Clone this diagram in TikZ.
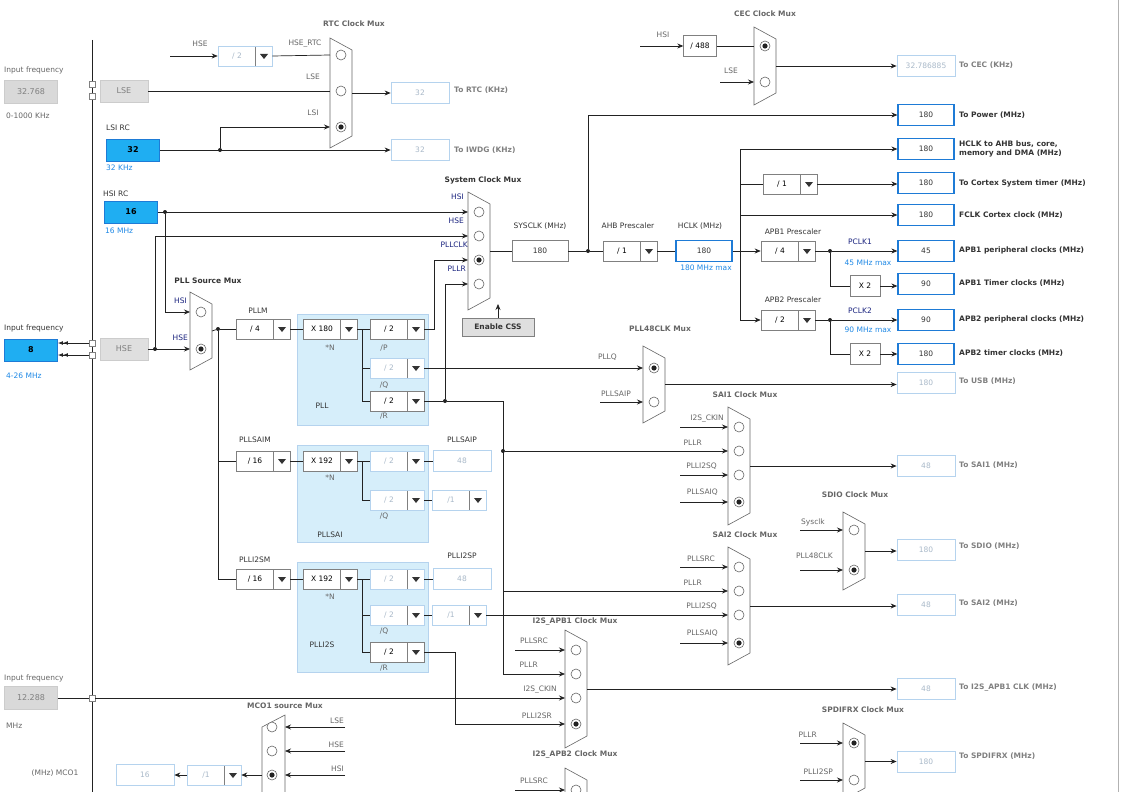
\documentclass[tikz,border=0pt]{standalone}
\usepackage{fontspec}
\setmainfont{DejaVu Sans}
\usetikzlibrary{arrows.meta, positioning}
\definecolor{valblue}{HTML}{1E7BD6}
\definecolor{offblue}{HTML}{B5D3EE}
\definecolor{offtxt}{HTML}{A9B9C9}
\definecolor{srcfill}{HTML}{1FAEF2}
\definecolor{darktxt}{HTML}{333333}
\definecolor{bluetxt}{HTML}{1E88E5}
\definecolor{navytxt}{HTML}{1A237E}
\definecolor{pllfill}{HTML}{D6EEFA}
\definecolor{wirec}{HTML}{222222}
\newcommand\dt[1]{\makebox[34pt]{#1}\hspace*{16pt}}
% mux: name, x, ytop, ybottom, input ys, selected y
\newcommand\mux[6]{%
  \draw[muxline] (#2,#3) -- (#2+22,#3+12) -- (#2+22,#4-12) -- (#2,#4) -- cycle;
  \coordinate (#1-o) at (#2+22,{(#3+#4)/2});
  \coordinate (#1-b) at (#2+11,#4-6);
  \foreach \yy [count=\i] in {#5} {
    \coordinate (#1-\i) at (#2,\yy);
    \draw[muxline] (#2+11,\yy) circle (5);
    \ifnum\yy=#6 \fill[wirec] (#2+11,\yy) circle (2.6); \fi
  }}
\tikzset{
  every node/.style={font=\fontsize{7.5}{9}\selectfont, inner sep=1pt},
  muxline/.style={draw=gray!80!black, fill=white, line width=.6pt},
  w/.style={draw=wirec, line width=.7pt},
  a/.style={w, -{Stealth[length=6pt,width=5pt]}},
  val/.style={draw=valblue, line width=1.2pt, fill=white, minimum width=56, minimum height=21, text=darktxt},
  off/.style={draw=offblue, line width=.8pt, fill=white, minimum width=58, minimum height=21, text=offtxt},
  src/.style={draw=valblue, line width=.8pt, fill=srcfill, minimum width=53, minimum height=22, font=\fontsize{8}{9}\bfseries},
  gbox/.style={draw=gray!40, fill=gray!30, text=gray, minimum width=53, minimum height=23, font=\fontsize{8}{9}\selectfont},
  dd/.style={draw=gray, line width=.6pt, fill=white, minimum width=54, minimum height=20,
    path picture={\draw[gray] ([xshift=-17pt]path picture bounding box.north east) -- ([xshift=-17pt]path picture bounding box.south east);
      \fill[darktxt] ([xshift=-12pt,yshift=2pt]path picture bounding box.east) -- ++(8pt,0) -- ++(-4pt,-5pt) -- cycle;}},
  ddoff/.style={dd, draw=offblue, text=offtxt},
  lbl/.style={anchor=west, text=darktxt, font=\fontsize{7.5}{9}\bfseries},
  glbl/.style={anchor=west, text=gray, font=\fontsize{7.5}{9}\bfseries},
  ttl/.style={text=gray!80!black, font=\fontsize{7.5}{9}\bfseries},
  sm/.style={text=gray!80!black},
  inl/.style={anchor=south east, text=gray!80!black},
  bl/.style={text=bluetxt},
  nv/.style={text=navytxt},
  sq/.style={draw=gray, fill=white, minimum size=6, inner sep=0},
  dot/.style={circle, fill=wirec, inner sep=0, minimum size=4}
}
\begin{document}
\begin{tikzpicture}[x=1pt, y=-1pt]
  \useasboundingbox (0,0) rectangle (1122,792);
  \clip (0,0) rectangle (1122,792);
  \draw[gray!60] (1118,0) -- (1118,792);
  \draw[w] (92,40) -- (92,792);

  % Sources
  \node[sm, anchor=west] at (3,70) {Input frequency};
  \node[gbox] (lsefreq) at (31,92) {32.768};
  \node[sm, anchor=west] at (5,116) {0-1000 KHz};
  \node[gbox, minimum width=48, minimum height=22, fill=gray!25] (lse) at (124,91) {LSE};
  \node[sq] (sqa) at (92,84) {}; \node[sq] (sqb) at (92,96) {};
  \node[anchor=west, text=darktxt] at (105,128) {LSI RC};
  \node[src] (lsi) at (133,150) {32};
  \node[bl, anchor=west] at (105,168) {32 KHz};
  \node[anchor=west, text=darktxt] at (102,194) {HSI RC};
  \node[src] (hsi) at (131,212) {16};
  \node[bl, anchor=west] at (104,231) {16 MHz};
  \node[anchor=west, text=darktxt] at (3,328) {Input frequency};
  \node[src] (hsefreq) at (31,350) {8};
  \node[bl, anchor=west] at (5,376) {4-26 MHz};
  \node[gbox, minimum width=48, minimum height=22, fill=gray!25] (hse) at (124,349) {HSE};
  \node[sq] (sqc) at (92,343) {}; \node[sq] (sqd) at (92,355) {};
  \draw[w, -{Latex[length=5pt]Latex[length=5pt]}] (sqc) -- (hsefreq.east|-sqc);
  \draw[w, -{Latex[length=5pt]Latex[length=5pt]}] (sqd) -- (hsefreq.east|-sqd);
  \node[sm, anchor=west] at (3,678) {Input frequency};
  \node[gbox] (i2sfreq) at (31,698) {12.288};
  \node[sm, anchor=west] at (5,726) {MHz};
  \node[sq] (sqe) at (92,698) {};

  % RTC
  \node[ttl] at (354,24) {RTC Clock Mux};
  \mux{rtc}{330}{38}{148}{55,91,127}{127}
  \node[sm] at (200,44) {HSE};
  \node[ddoff] (rtcdiv) at (245,56) {\dt{/ 2}};
  \coordinate (hsein) at (170,56);
  \draw[a] (hsein) -- (rtcdiv);
  \draw[w] (rtcdiv.east) -- (rtc-1);
  \node[sm] at (305,44) {HSE\_RTC};
  \draw[w] (lse) -- (rtc-2); \node[sm] at (313,77) {LSE};
  \node[off] (rtcbox) at (420,93) {32};
  \node[glbl] at (453,90) {To RTC (KHz)};
  \draw[a] (rtc-o) -- (rtcbox.west|-rtc-o);
  \node[off] (iwdg) at (420,150) {32};
  \node[glbl] at (453,150) {To IWDG (KHz)};
  \node[dot] (lsidot) at (220,150) {};
  \draw[a] (lsi.east) -- (iwdg);
  \draw[a] (lsidot) |- (rtc-3); \node[sm] at (313,113) {LSI};

  % CEC
  \node[ttl] at (765,14) {CEC Clock Mux};
  \mux{cec}{754}{27}{105}{46,82}{46}
  \coordinate (cecin) at (640,46); \coordinate (cecin2) at (720,82);
  \node[sm] at (663,35) {HSI}; \node[sm] at (731,71) {LSE};
  \node[draw=gray, fill=white, minimum width=33, minimum height=21] (div488) at (700,46) {/ 488};
  \draw[a] (cecin) -- (div488); \draw[w] (div488) -- (cec-1);
  \draw[a] (cecin2) -- (cec-2);
  \node[off] (cecbox) at (926,66) {32.786885};
  \node[glbl] at (958,65) {To CEC (KHz)};
  \draw[a] (cec-o) -- (cecbox.west|-cec-o);

  % System clock
  \node[ttl, text=darktxt] at (483,180) {System Clock Mux};
  \mux{sys}{468}{192}{310}{212,236,260,284}{260}
  \node[inl, nv] at (465,201) {HSI}; \node[inl, nv] at (465,225) {HSE};
  \node[inl, nv] at (469,249) {PLLCLK}; \node[inl, nv] at (467,273) {PLLR};
  \node[dot] (hsidot) at (165,212) {};
  \draw[a] (hsi.east) -- (sys-1);
  \node[dot] (hsedot) at (155,349) {};
  \draw[a] (hsedot) |- (sys-2);
  \node[val, line width=.8pt, draw=gray] (sysclk) at (540,251) {180};
  \node[sm, text=darktxt] at (540,226) {SYSCLK (MHz)};
  \draw[w] (sys-o) -- (sysclk);
  \node[draw=gray, fill=gray!25, font=\fontsize{7.5}{9}\bfseries, text=darktxt, minimum width=72, minimum height=18] (css) at (498,327) {Enable CSS};
  \draw[a] (css.north) -- (css.north|-sys-b);

  % PLL source
  \node[ttl, text=darktxt] at (208,281) {PLL Source Mux};
  \mux{psrc}{190}{292}{370}{312,349}{349}
  \node[inl, nv] at (188,305) {HSI}; \node[inl, nv] at (189,342) {HSE};
  \draw[a] (hsidot) |- (psrc-1);
  \draw[a] (hse.east) -- (psrc-2);
  \node[dot] (pdot) at (218,329) {};
  \draw[w] (psrc-o) -- (pdot);
  \node[dd] (pllm) at (263,329) {\dt{/ 4}};
  \node[sm, text=darktxt] at (258,311) {PLLM};
  \node[dd] (saim) at (263,461) {\dt{/ 16}};
  \node[sm, text=darktxt, anchor=west] at (238,440) {PLLSAIM};
  \node[dd] (i2sm) at (263,579) {\dt{/ 16}};
  \node[sm, text=darktxt, anchor=west] at (238,560) {PLLI2SM};
  \draw[w] (pdot) -- (pllm); \draw[w] (pdot) |- (saim); \draw[w] (pdot) |- (i2sm);

  % PLL blocks
  \fill[pllfill, draw=offblue] (297,314) rectangle (428,425);
  \fill[pllfill, draw=offblue] (297,445) rectangle (428,542);
  \fill[pllfill, draw=offblue] (297,562) rectangle (428,672);
  \node[dd] (n1) at (330,329) {\dt{X 180}}; \node[sm] at (330,348) {*N};
  \node[dd] (p1) at (397,329) {\dt{/ 2}}; \node[sm] at (384,348) {/P};
  \node[ddoff] (q1) at (397,368) {\dt{/ 2}}; \node[sm] at (384,385) {/Q};
  \node[dd] (r1) at (397,401) {\dt{/ 2}}; \node[sm] at (384,416) {/R};
  \node[sm, text=darktxt] at (322,406) {PLL};
  \draw[w] (pllm) -- (n1); \draw[w] (n1) -- (p1);
  \coordinate (s1) at (362,329);
  \draw[w] (s1) |- (q1); \draw[w] (s1) |- (r1);
  \coordinate (pk) at (434,329);
  \draw[a] (p1.east) -- (pk) |- (sys-3);
  \node[dot] (rdot) at (445,401) {};
  \draw[w] (r1.east) -- (rdot);
  \draw[a] (rdot) |- (sys-4);

  \node[dd] (n2) at (330,461) {\dt{X 192}}; \node[sm] at (330,478) {*N};
  \node[ddoff] (p2) at (397,461) {\dt{/ 2}};
  \node[ddoff] (q2) at (397,500) {\dt{/ 2}}; \node[sm] at (384,516) {/Q};
  \node[off] (saip) at (462,461) {48};
  \node[sm, text=darktxt] at (462,440) {PLLSAIP};
  \node[ddoff] (saiq) at (459,500) {\dt{/1}};
  \node[sm, text=darktxt] at (330,535) {PLLSAI};
  \draw[w] (saim) -- (n2); \draw[w] (n2) -- (p2); \draw[w] (p2) -- (saip);
  \coordinate (s2) at (362,461); \draw[w] (s2) |- (q2); \draw[w] (q2) -- (saiq);

  \node[dd] (n3) at (330,579) {\dt{X 192}}; \node[sm] at (330,597) {*N};
  \node[ddoff] (p3) at (397,579) {\dt{/ 2}};
  \node[ddoff] (q3) at (397,615) {\dt{/ 2}}; \node[sm] at (384,631) {/Q};
  \node[dd] (r3) at (397,652) {\dt{/ 2}}; \node[sm] at (384,668) {/R};
  \node[off] (i2sp) at (462,579) {48};
  \node[sm, text=darktxt] at (462,556) {PLLI2SP};
  \node[ddoff] (i2sq) at (459,615) {\dt{/1}};
  \node[sm, text=darktxt] at (322,645) {PLLI2S};
  \draw[w] (i2sm) -- (n3); \draw[w] (n3) -- (p3); \draw[w] (p3) -- (i2sp);
  \coordinate (s3) at (362,579); \draw[w] (s3) |- (q3); \draw[w] (s3) |- (r3);
  \draw[w] (q3) -- (i2sq);

  % PLL48CLK
  \node[ttl] at (660,329) {PLL48CLK Mux};
  \mux{pq}{643}{346}{423}{368,402}{368}
  \node[inl] at (618,362) {PLLQ}; \node[inl] at (632,398) {PLLSAIP};
  \draw[a] (q1) -- (pq-1);
  \coordinate (pqin) at (600,402); \draw[a] (pqin) -- (pq-2);
  \node[off] (usb) at (926,383) {180}; \node[glbl] at (958,381) {To USB (MHz)};
  \draw[a] (pq-o) -- (usb.west|-pq-o);

  % SAI1
  \node[ttl] at (745,395) {SAI1 Clock Mux};
  \mux{saia}{728}{407}{525}{427,451,475,502}{502}
  \node[inl] at (725,423) {I2S\_CKIN}; \node[inl] at (703,447) {PLLR};
  \node[inl] at (718,471) {PLLI2SQ}; \node[inl] at (719,497) {PLLSAIQ};
  \foreach \k/\yy in {1/427,3/475,4/502} {\coordinate (saiain\k) at (680,\yy); \draw[a] (saiain\k) -- (saia-\k);}
  \node[off] (sai1) at (926,466) {48}; \node[glbl] at (958,465) {To SAI1 (MHz)};
  \draw[a] (saia-o) -- (sai1.west|-saia-o);

  % SAI2
  \node[ttl] at (745,535) {SAI2 Clock Mux};
  \mux{saib}{728}{547}{665}{567,591,615,643}{643}
  \node[inl] at (716,563) {PLLSRC}; \node[inl] at (703,587) {PLLR};
  \node[inl] at (718,611) {PLLI2SQ}; \node[inl] at (719,638) {PLLSAIQ};
  \foreach \k/\yy in {1/567,4/643} {\coordinate (saibin\k) at (680,\yy); \draw[a] (saibin\k) -- (saib-\k);}
  \draw[a] (i2sq) -- (saib-3);
  \node[off] (sai2) at (926,605) {48}; \node[glbl] at (958,603) {To SAI2 (MHz)};
  \draw[a] (saib-o) -- (sai2.west|-saib-o);

  % SDIO
  \node[ttl] at (855,495) {SDIO Clock Mux};
  \mux{sdio}{843}{512}{590}{530,570}{570}
  \node[inl] at (826,527) {Sysclk}; \node[inl] at (834,560) {PLL48CLK};
  \foreach \k/\yy in {1/530,2/570} {\coordinate (sdioin\k) at (800,\yy); \draw[a] (sdioin\k) -- (sdio-\k);}
  \node[off] (sdiobox) at (926,550) {180}; \node[glbl] at (958,546) {To SDIO (MHz)};
  \draw[a] (sdio-o) -- (sdiobox.west|-sdio-o);

  % I2S_APB1
  \node[ttl] at (575,622) {I2S\_APB1 Clock Mux};
  \mux{ia}{565}{630}{748}{650,674,698,724}{724}
  \node[inl] at (549,645) {PLLSRC}; \node[inl] at (539,669) {PLLR};
  \node[inl] at (558,694) {I2S\_CKIN}; \node[inl] at (553,720) {PLLI2SR};
  \coordinate (iain1) at (515,650); \draw[a] (iain1) -- (ia-1);
  \draw[a] (sqe) -- (ia-3);
  \draw[w] (i2sfreq) -- (sqe);
  \coordinate (rk) at (455,652);
  \draw[a] (r3.east) -- (rk) |- (ia-4);
  \node[off] (i2s1) at (926,689) {48}; \node[glbl] at (958,688) {To I2S\_APB1 CLK (MHz)};
  \draw[a] (ia-o) -- (i2s1.west|-ia-o);

  % PLLR distribution
  \coordinate (rr) at (503,401);
  \node[dot] (rrdot) at (503,451) {};
  \draw[w] (rdot) -- (rr) -- (503,674);
  \draw[a] (rrdot) -- (saia-2);
  \draw[a] (503,591) -- (saib-2);
  \draw[a] (503,674) -- (ia-2);

  % SPDIFRX
  \node[ttl] at (863,710) {SPDIFRX Clock Mux};
  \mux{spd}{843}{723}{800}{743,780}{743}
  \node[inl] at (818,739) {PLLR}; \node[inl] at (834,776) {PLLI2SP};
  \foreach \k/\yy in {1/743,2/780} {\coordinate (spdin\k) at (800,\yy); \draw[a] (spdin\k) -- (spd-\k);}
  \node[off] (spdbox) at (926,762) {180}; \node[glbl] at (958,756) {To SPDIFRX (MHz)};
  \draw[a] (spd-o) -- (spdbox.west|-spd-o);

  % I2S_APB2
  \node[ttl] at (575,755) {I2S\_APB2 Clock Mux};
  \mux{ib}{565}{768}{886}{790}{0}
  \node[inl] at (549,785) {PLLSRC};
  \coordinate (ibin1) at (515,790); \draw[a] (ibin1) -- (ib-1);

  % MCO1
  \node[ttl] at (285,706) {MCO1 source Mux};
  \draw[muxline] (285,715) -- (262,727) -- (262,822) -- (285,834) -- cycle;
  \foreach \yy in {727,751,775} \draw[muxline] (272,\yy) circle (5);
  \fill[wirec] (272,775) circle (2.6);
  \foreach \yy/\t in {727/LSE,751/HSE,775/HSI} {
    \coordinate (mcoin\yy) at (345,\yy); \coordinate (mco\yy) at (285,\yy);
    \draw[a] (mcoin\yy) -- (mco\yy); \node[inl] at (345,\yy-2) {\t};}
  \coordinate (mco-o) at (262,775);
  \node[ddoff] (mcodiv) at (214,775) {\dt{/1}};
  \node[off] (mcobox) at (145,775) {16};
  \node[sm] at (55,773) {(MHz) MCO1};
  \draw[a] (mco-o) -- (mcodiv); \draw[a] (mcodiv) -- (mcobox);

  % AHB / APB tree
  \node[dot] (sdot) at (588,251) {};
  \draw[w] (sysclk) -- (sdot);
  \node[dd] (ahbpre) at (630,251) {\dt{/ 1}};
  \node[sm, text=darktxt] at (628,226) {AHB Prescaler};
  \node[val] (hclk) at (704,251) {180};
  \node[sm, text=darktxt] at (700,226) {HCLK (MHz)};
  \node[bl] at (706,268) {180 MHz max};
  \draw[w] (sdot) -- (ahbpre); \draw[w] (ahbpre) -- (hclk);
  \node[val] (power) at (926,115) {180}; \node[lbl] at (958,115) {To Power (MHz)};
  \draw[a] (sdot) |- (power);
  \node[val] (ahb) at (926,149) {180};
  \node[lbl, align=left] at (958,149) {HCLK to AHB bus, core,\\memory and DMA (MHz)};
  \node[val] (cortex) at (926,183) {180}; \node[lbl] at (958,183) {To Cortex System timer (MHz)};
  \node[val] (fclk) at (926,215) {180}; \node[lbl] at (958,215) {FCLK Cortex clock (MHz)};
  \node[val] (apb1) at (926,251) {45}; \node[lbl] at (958,250) {APB1 peripheral clocks (MHz)};
  \node[val] (apb1t) at (926,284) {90}; \node[lbl] at (958,283) {APB1 Timer clocks (MHz)};
  \node[val] (apb2) at (926,320) {90}; \node[lbl] at (958,319) {APB2 peripheral clocks (MHz)};
  \node[val] (apb2t) at (926,354) {180}; \node[lbl] at (958,353) {APB2 timer clocks (MHz)};
  \coordinate (hk) at (740,251);
  \draw[w] (hclk) -- (hk);
  \draw[w] (740,149) -- (740,320);
  \draw[a] (740,149) -- (ahb);
  \node[dd] (cdiv) at (790,184) {\dt{/ 1}};
  \draw[w] (740,184) -- (cdiv); \draw[a] (cdiv) -- (cortex.west|-cdiv);
  \draw[a] (740,215) -- (fclk);
  \node[dd] (apb1pre) at (788,251) {\dt{/ 4}};
  \node[sm, text=darktxt] at (793,232) {APB1 Prescaler};
  \node[dd] (apb2pre) at (788,320) {\dt{/ 2}};
  \node[sm, text=darktxt] at (793,300) {APB2 Prescaler};
  \draw[a] (hk) -- (apb1pre); \draw[a] (740,320) -- (apb2pre);
  \node[dot] (d1) at (830,251) {}; \node[dot] (d2) at (830,320) {};
  \draw[w] (apb1pre) -- (d1); \draw[a] (d1) -- (apb1);
  \draw[w] (apb2pre) -- (d2); \draw[a] (d2) -- (apb2);
  \node[nv] at (860,242) {PCLK1}; \node[bl] at (868,263) {45 MHz max};
  \node[nv] at (860,311) {PCLK2}; \node[bl] at (868,330) {90 MHz max};
  \node[draw=gray, fill=white, minimum width=30, minimum height=21] (x2a) at (865,286) {X 2};
  \node[draw=gray, fill=white, minimum width=30, minimum height=21] (x2b) at (865,354) {X 2};
  \draw[w] (d1) |- (x2a); \draw[a] (x2a) -- (apb1t.west|-x2a);
  \draw[w] (d2) |- (x2b); \draw[a] (x2b) -- (apb2t.west|-x2b);
\end{tikzpicture}
\end{document}
